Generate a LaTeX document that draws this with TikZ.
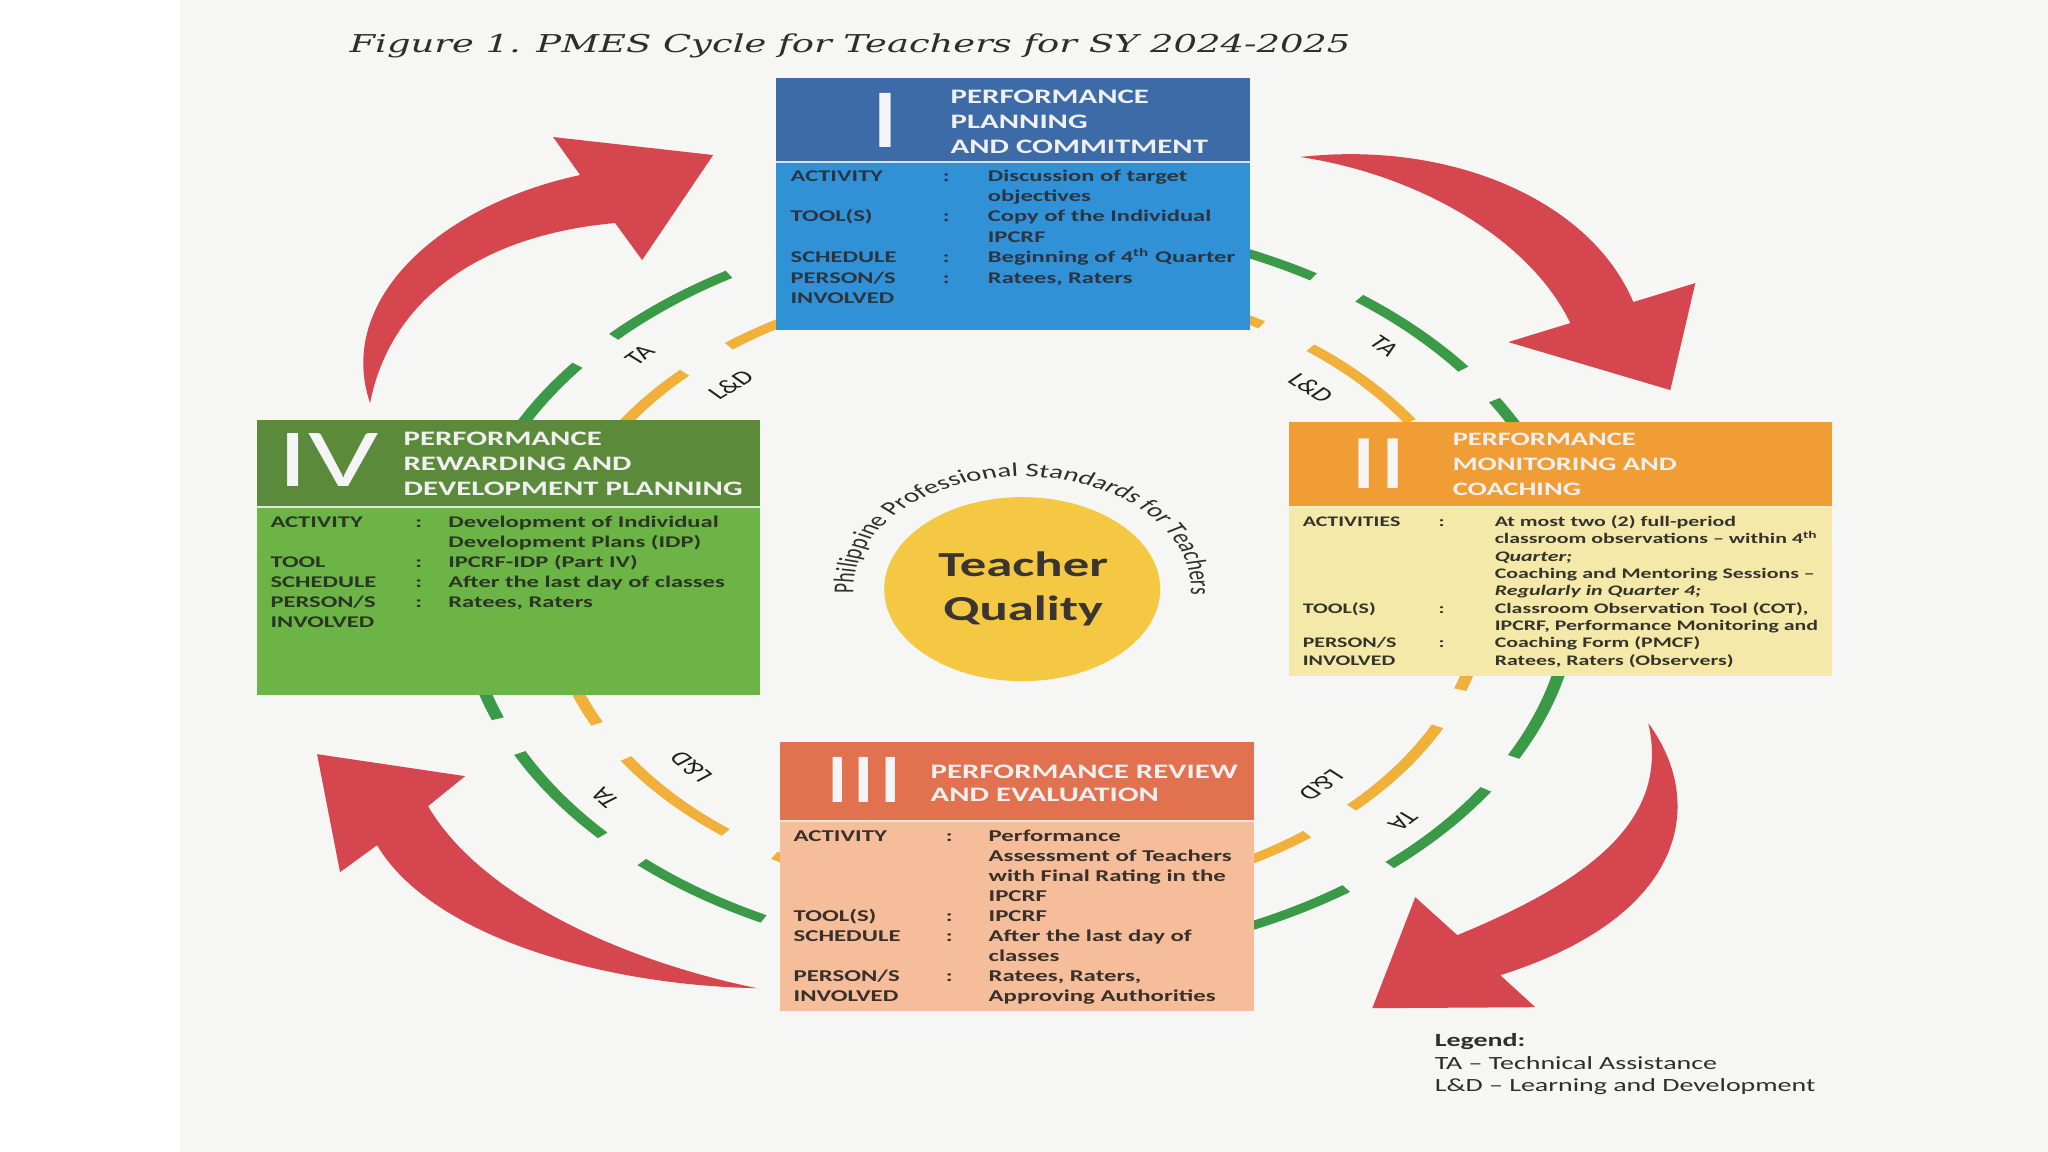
\documentclass[tikz,border=0pt]{standalone}
\usepackage{fontspec}
\setmainfont{Carlito}
\newfontfamily\titlefont{DejaVu Serif}
\usetikzlibrary{calc,decorations.text}

\definecolor{pagebg}{HTML}{F6F6F4}
\definecolor{headI}{HTML}{3D6BA8}
\definecolor{bodyI}{HTML}{3191D7}
\definecolor{textI}{HTML}{2B3541}
\definecolor{headII}{HTML}{EF9D34}
\definecolor{bodyII}{HTML}{F4E9A8}
\definecolor{textII}{HTML}{34342C}
\definecolor{headIII}{HTML}{E1714F}
\definecolor{bodyIII}{HTML}{F5BD9A}
\definecolor{textIII}{HTML}{38302B}
\definecolor{headIV}{HTML}{5C8A3B}
\definecolor{bodyIV}{HTML}{6CB446}
\definecolor{textIV}{HTML}{2A3625}
\definecolor{tagreen}{HTML}{3B9A48}
\definecolor{ldorange}{HTML}{F1B03A}
\definecolor{arrowred}{HTML}{D6464F}
\definecolor{coreyellow}{HTML}{F5C843}
\definecolor{coretext}{HTML}{3A3530}
\definecolor{inktext}{HTML}{2E2E2E}

\tikzset{
  heading/.style={anchor=north west, inner sep=0pt, align=left, text=white!94!black,
    font=\fontsize{11.7}{14}\selectfont\bfseries},
  numeral/.style={inner sep=0pt, text=white!96!black},
  details/.style={anchor=north west, inner sep=0pt, font=\fontsize{9.3}{11.5}\selectfont\bfseries},
  tadash/.style={draw=tagreen, line width=4.8pt},
  lddash/.style={draw=ldorange, line width=4.8pt},
  ringtag/.style={inner sep=0pt, text=black!88, font=\fontsize{11}{13}\selectfont},
  cyclearrow/.style={fill=arrowred},
}

\begin{document}
\begin{tikzpicture}[x=0.0133333cm, y=-0.02cm]
  %%%%% PAGE %%%%%
  \fill[pagebg] (0cm,0cm) rectangle (40.96cm,-23.04cm);
  \fill[white] (0cm,0cm) rectangle (3.6cm,-23.04cm);
  \useasboundingbox (0cm,0cm) rectangle (40.96cm,-23.04cm);

  % the scan is stretched sideways
  \begin{scope}[transform canvas={xscale=1.5}]

    \node[anchor=base west, inner sep=0pt, text=inktext,
      font=\titlefont\itshape\fontsize{14}{16}\selectfont] (title) at (349,52)
      {Figure 1. PMES Cycle for Teachers for SY 2024-2025};

    %%%%% RINGS %%%%%
    \coordinate (ring) at (1018,590);
    \foreach \k in {0,...,16}
      \draw[tadash] (ring) ++(15.5+21.18*\k:7.4cm) arc[start angle=15.5+21.18*\k, delta angle=15.4, radius=7.4cm];
    \foreach \k in {0,...,13}
      \draw[lddash] (ring) ++(7.1+25.71*\k:6.22cm) arc[start angle=7.1+25.71*\k, delta angle=18.4, radius=6.22cm];

    \foreach \a/\n in {137/1,45/2,-42/3,-143/4}
      \node[ringtag, rotate=\a-90] (ta\n) at ($(ring)+(\a:6.9cm)$) {TA};
    \foreach \a/\n in {133/1,46/2,-44/3,-141/4}
      \node[ringtag, rotate=\a-90] (ld\n) at ($(ring)+(\a:5.62cm)$) {L\&D};

    %%%%% ARROWS %%%%%
    \fill[cyclearrow] (370,403) .. controls (335,300) and (440,205) .. (580,175) -- (553,137) -- (713,155)
      -- (642,260) -- (615,223) .. controls (480,235) and (390,300) .. (370,403) -- cycle;
    \fill[cyclearrow] (1300,157) .. controls (1450,140) and (1590,200) .. (1633,302) -- (1695,283) -- (1670,390)
      -- (1508,342) -- (1570,323) .. controls (1530,240) and (1420,175) .. (1300,157) -- cycle;
    \fill[cyclearrow] (1648,723) .. controls (1705,800) and (1690,915) .. (1500,975) -- (1535,1007) -- (1372,1008)
      -- (1415,897) -- (1457,935) .. controls (1590,880) and (1670,820) .. (1648,723) -- cycle;
    \fill[cyclearrow] (757,988) .. controls (600,985) and (430,935) .. (377,845) -- (340,872) -- (317,754)
      -- (465,776) -- (428,806) .. controls (480,895) and (620,960) .. (757,988) -- cycle;

    %%%%% I %%%%%
    \fill[headI] (776,78) rectangle (1250,162);
    \fill[bodyI] (776,162) rectangle (1250,330);
    \draw[white!80!headI, line width=0.8pt] (776,162) -- (1250,162);
    \node[numeral, font=\fontsize{48}{48}\selectfont] (numI) at (885,120) {I};
    \node[heading] (headI) at (950,90) {PERFORMANCE\\PLANNING\\AND COMMITMENT};
    \node[details, text=textI] (tabI) at (790,167) {%
      \begin{tabular}{@{}p{2.03cm}@{}p{0.6cm}@{}l@{}}
        ACTIVITY & : & Discussion of target\\
                 &   & objectives\\
        TOOL(S)  & : & Copy of the Individual\\
                 &   & IPCRF\\
        SCHEDULE & : & Beginning of 4\textsuperscript{th} Quarter\\
        PERSON/S & : & Ratees, Raters\\
        INVOLVED &   & \\
      \end{tabular}};

    %%%%% II %%%%%
    \fill[headII] (1289,422) rectangle (1832,507);
    \fill[bodyII] (1289,507) rectangle (1832,676);
    \draw[white!80!headII, line width=0.8pt] (1289,507) -- (1832,507);
    \node[numeral, font=\fontsize{44}{44}\selectfont] (numII) at (1378,464) {II};
    \node[heading, font=\fontsize{10.8}{14.2}\selectfont\bfseries] (headII) at (1452,433)
      {PERFORMANCE\\MONITORING AND\\COACHING};
    \node[details, text=textII, font=\fontsize{8.3}{9.85}\selectfont\bfseries] (tabII) at (1302,514) {%
      \begin{tabular}{@{}p{1.81cm}@{}p{0.75cm}@{}l@{}}
        ACTIVITIES & : & At most two (2) full-period\\
                   &   & classroom observations – within 4\textsuperscript{th}\\
                   &   & \textit{Quarter;}\\
                   &   & Coaching and Mentoring Sessions –\\
                   &   & \textit{Regularly in Quarter 4;}\\
        TOOL(S)    & : & Classroom Observation Tool (COT),\\
                   &   & IPCRF, Performance Monitoring and\\
        PERSON/S   & : & Coaching Form (PMCF)\\
        INVOLVED   &   & Ratees, Raters (Observers)\\
      \end{tabular}};

    %%%%% III %%%%%
    \fill[headIII] (780,742) rectangle (1254,821);
    \fill[bodyIII] (780,821) rectangle (1254,1011);
    \draw[white!80!headIII, line width=0.8pt] (780,821) -- (1254,821);
    \node[numeral, font=\fontsize{40}{40}\selectfont] (numIII) at (864,780) {III};
    \node[heading, font=\fontsize{11.7}{13}\selectfont\bfseries] (headIII) at (930,765)
      {PERFORMANCE REVIEW\\AND EVALUATION};
    \node[details, text=textIII, font=\fontsize{9.4}{11.4}\selectfont\bfseries] (tabIII) at (793,827) {%
      \begin{tabular}{@{}p{2.03cm}@{}p{0.57cm}@{}l@{}}
        ACTIVITY & : & Performance\\
                 &   & Assessment of Teachers\\
                 &   & with Final Rating in the\\
                 &   & IPCRF\\
        TOOL(S)  & : & IPCRF\\
        SCHEDULE & : & After the last day of\\
                 &   & classes\\
        PERSON/S & : & Ratees, Raters,\\
        INVOLVED &   & Approving Authorities\\
      \end{tabular}};

    %%%%% IV %%%%%
    \fill[headIV] (257,420) rectangle (760,507);
    \fill[bodyIV] (257,507) rectangle (760,695);
    \draw[white!80!headIV, line width=0.8pt] (257,507) -- (760,507);
    \node[numeral, font=\fontsize{47}{47}\selectfont] (numIV) at (328,460) {IV};
    \node[heading] (headIV) at (403,432) {PERFORMANCE\\REWARDING AND\\DEVELOPMENT PLANNING};
    \node[details, text=textIV, font=\fontsize{9.3}{11.4}\selectfont\bfseries] (tabIV) at (270,513) {%
      \begin{tabular}{@{}p{1.93cm}@{}p{0.44cm}@{}l@{}}
        ACTIVITY & : & Development of Individual\\
                 &   & Development Plans (IDP)\\
        TOOL     & : & IPCRF-IDP (Part IV)\\
        SCHEDULE & : & After the last day of classes\\
        PERSON/S & : & Ratees, Raters\\
        INVOLVED &   & \\
      \end{tabular}};

    %%%%% CENTRE %%%%%
    \node[circle, fill=coreyellow, minimum size=3.68cm, inner sep=0pt] (core) at (1022,589) {};
    \node[align=center, inner sep=0pt, text=coretext, font=\fontsize{20}{25}\selectfont\bfseries] (quality)
      at (1023,589) {Teacher\\Quality};
    \path[decorate, decoration={text along path, text align=center,
        text={|\fontsize{11}{13}\selectfont\color{inktext}|Philippine Professional Standards for Teachers}}]
      (core) ++(184:2.25cm) arc[start angle=184, end angle=-5, radius=2.25cm];

    %%%%% LEGEND %%%%%
    \node[anchor=north west, inner sep=0pt, align=left, text=inktext,
      font=\fontsize{10.6}{12.9}\selectfont] (legend) at (1434,1033)
      {\textbf{Legend:}\\TA – Technical Assistance\\L\&D – Learning and Development};

  \end{scope}
\end{tikzpicture}
\end{document}
